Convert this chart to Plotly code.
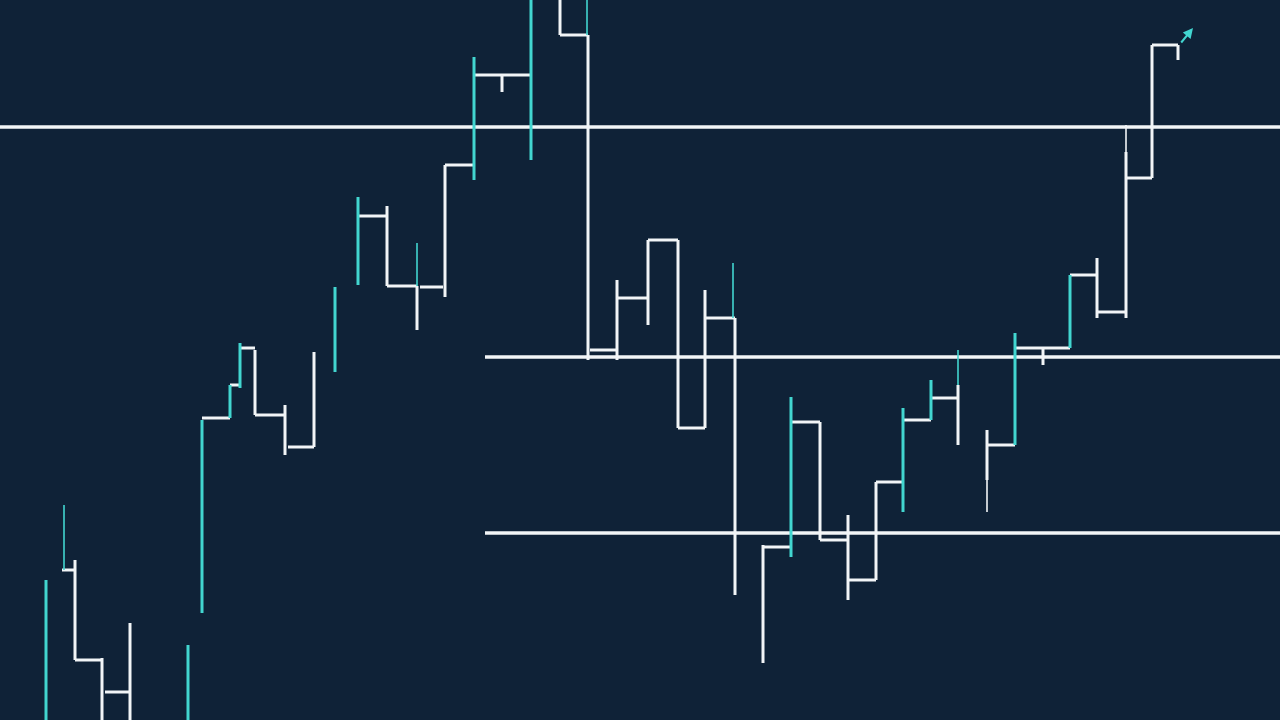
import plotly.graph_objects as go

# ---- data (time position, price) ----
# vertical moves: time, high, low, direction (1 = up / cyan, 0 = down / white)
v_time = [46, 64, 75, 102, 130, 188, 202, 230, 240, 255, 285, 314, 335, 358, 387, 417, 417,
          445, 474, 502, 531, 560, 587, 588, 617, 648, 678, 705, 733, 735, 763, 791, 820,
          848, 876, 903, 931, 958, 958, 987, 987, 1015, 1043, 1070, 1097, 1126, 1126, 1152, 1178]
v_high = [140, 215, 160, 62, 97, 75, 300, 335, 377, 370, 315, 368, 433, 523, 514, 477, 434,
          555, 663, 645, 730, 730, 730, 685, 440, 480, 480, 430, 457, 402, 175, 323, 298,
          205, 238, 312, 340, 370, 335, 290, 240, 387, 372, 445, 462, 568, 595, 675, 675]
v_low = [0, 150, 60, 0, 0, 0, 107, 302, 332, 305, 265, 273, 348, 435, 434, 434, 390,
         423, 540, 628, 560, 685, 685, 360, 360, 395, 292, 292, 402, 125, 57, 163, 180,
         120, 140, 208, 300, 335, 275, 240, 208, 275, 355, 372, 402, 402, 568, 542, 660]
v_up = [1, 1, 0, 0, 0, 1, 1, 1, 1, 0, 0, 0, 1, 1, 0, 1, 0,
        0, 1, 0, 1, 0, 1, 0, 0, 0, 0, 0, 1, 0, 0, 1, 0,
        0, 0, 1, 1, 1, 0, 0, 0, 1, 0, 1, 0, 0, 0, 0, 0]
v_thin = [0, 1, 0, 0, 0, 0, 0, 0, 0, 0, 0, 0, 0, 0, 0, 1, 0,
          0, 0, 0, 0, 0, 1, 0, 0, 0, 0, 0, 1, 0, 0, 0, 0,
          0, 0, 0, 0, 1, 0, 0, 1, 0, 0, 0, 0, 0, 1, 0, 0]

# horizontal holds: start time, end time, price
h_start = [62, 75, 105, 202, 230, 240, 255, 288, 358, 387, 420, 445, 475, 560, 590, 617, 648,
           678, 705, 763, 791, 820, 848, 876, 903, 931, 987, 1015, 1070, 1097, 1126, 1152]
h_end = [75, 102, 130, 230, 240, 255, 285, 314, 387, 417, 443, 473, 531, 588, 617, 648, 678,
         705, 735, 791, 820, 848, 876, 903, 931, 958, 1015, 1070, 1097, 1126, 1152, 1178]
h_price = [150, 60, 28, 302, 335, 372, 305, 273, 504, 434, 433, 555, 645, 685, 370, 422, 480,
           292, 402, 173, 298, 180, 140, 238, 300, 322, 275, 372, 445, 408, 542, 675]

# support / resistance levels
level_price = [593, 363, 187]
level_start = [0, 485, 485]

BG = "#0f2237"
WHITE = "#f2f5f7"
CYAN = "#42d6d0"

def seg_xy(x0s, x1s, y0s, y1s):
    xs, ys = [], []
    for a, b, c, d in zip(x0s, x1s, y0s, y1s):
        xs += [a, b, None]
        ys += [c, d, None]
    return xs, ys

fig = go.Figure()

# level lines
for p, s in zip(level_price, level_start):
    fig.add_trace(go.Scatter(x=[s, 1280], y=[p, p], mode="lines",
                             line=dict(color=WHITE, width=3.5), hoverinfo="skip"))

# horizontal holds
hx, hy = seg_xy(h_start, h_end, h_price, h_price)
fig.add_trace(go.Scatter(x=hx, y=hy, mode="lines", line=dict(color=WHITE, width=3),
                         hoverinfo="skip"))

# vertical moves grouped by colour / thickness
for up, thin in [(0, 0), (1, 0), (0, 1), (1, 1)]:
    idx = [i for i in range(len(v_time)) if v_up[i] == up and v_thin[i] == thin]
    if not idx:
        continue
    xs, ys = seg_xy([v_time[i] for i in idx], [v_time[i] for i in idx],
                    [v_low[i] for i in idx], [v_high[i] for i in idx])
    fig.add_trace(go.Scatter(x=xs, y=ys, mode="lines",
                             line=dict(color=CYAN if up else WHITE, width=1.6 if thin else 3),
                             hoverinfo="skip"))

# small arrow at the end
fig.add_annotation(x=1193, y=692, ax=1180, ay=676, xref="x", yref="y", axref="x", ayref="y",
                   showarrow=True, arrowhead=2, arrowsize=1, arrowwidth=2, arrowcolor=CYAN, text="")

fig.update_layout(
    width=1280, height=720, margin=dict(l=0, r=0, t=0, b=0),
    paper_bgcolor=BG, plot_bgcolor=BG, showlegend=False,
    xaxis=dict(range=[0, 1280], visible=False, fixedrange=True),
    yaxis=dict(range=[0, 720], visible=False, fixedrange=True),
)

fig.write_html("out.html", config={"displayModeBar": False},
               post_script="document.body.style.margin='0px';"
                           "document.body.style.overflow='hidden';"
                           "document.body.style.background='#0f2237';")
